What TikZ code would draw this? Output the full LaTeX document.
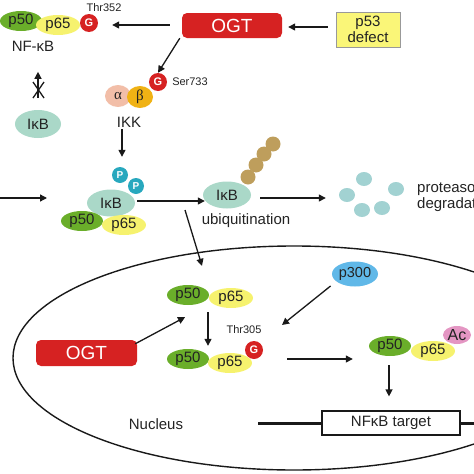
\documentclass[tikz,border=0pt]{standalone}
\usepackage{fontspec}
\setmainfont{Liberation Sans}
\newfontfamily\grkfont{Liberation Serif}
\usetikzlibrary{shapes.geometric,arrows.meta}
\definecolor{txt}{RGB}{35,35,35}
\definecolor{cPfifty}{RGB}{106,174,42}
\definecolor{cPsixfive}{RGB}{246,242,110}
\definecolor{cRed}{RGB}{214,34,34}
\definecolor{cIkB}{RGB}{170,216,200}
\definecolor{cPhos}{RGB}{40,168,190}
\definecolor{cAlpha}{RGB}{242,190,168}
\definecolor{cBeta}{RGB}{240,178,20}
\definecolor{cUb}{RGB}{190,158,92}
\definecolor{cDot}{RGB}{162,210,210}
\definecolor{cPthree}{RGB}{96,184,232}
\definecolor{cAc}{RGB}{228,150,195}
\definecolor{cYbox}{RGB}{250,246,120}
\begin{document}
\begin{tikzpicture}[x=1pt,y=-1pt,
  every node/.style={inner sep=0pt, text=txt},
  lbl/.style={font=\fontsize{15}{16}\selectfont},
  sml/.style={font=\fontsize{11}{12}\selectfont},
  prot/.style={ellipse, font=\fontsize{15}{16}\selectfont},
  pfifty/.style={prot, fill=cPfifty, minimum width=42pt, minimum height=20pt},
  psixfive/.style={prot, fill=cPsixfive, minimum width=44pt, minimum height=20pt},
  ikb/.style={prot, fill=cIkB, minimum width=48pt, minimum height=27pt},
  gly/.style={circle, fill=cRed, text=white, font=\bfseries\fontsize{11}{11}\selectfont, minimum size=18pt},
  phos/.style={circle, fill=cPhos, text=white, font=\bfseries\fontsize{10}{10}\selectfont, minimum size=16pt},
  ubq/.style={circle, fill=cUb, minimum size=15pt},
  pdot/.style={ellipse, fill=cDot, minimum width=16pt, minimum height=14pt},
  ogtbox/.style={rectangle, rounded corners=5pt, fill=cRed, text=white, font=\fontsize{19}{20}\selectfont},
  arr/.style={-{Triangle[length=7pt,width=7pt]}, line width=1.3pt, draw=black!90},
]
\useasboundingbox (0,0) rectangle (474,474);
\clip (0,0) rectangle (474,474);

% nucleus
\node[ellipse, draw=black!90, line width=1.4pt, minimum width=562pt, minimum height=224pt] (nucleus) at (294,358) {};

% ---------- top row ----------
\node[pfifty] (tp50) at (21,21) {p50};
\node[psixfive] (tp65) at (58,25) {p65};
\node[gly] (tG) at (89,23) {G};
\node[sml] (thr352) at (104,8) {Thr352};
\node[lbl] (nfkb) at (33,46) {NF-κB};

\node[ogtbox, minimum width=100pt, minimum height=25pt] (ogt1) at (232,25.5) {OGT};
\node[rectangle, draw=black!40, line width=0.8pt, fill=cYbox, align=center, minimum width=64pt, minimum height=35pt, font=\fontsize{15}{16}\selectfont] (p53) at (368,29.5) {p53\\defect};

\draw[arr] ([xshift=-8pt,yshift=2.5pt]p53.west) -- ([xshift=6pt,yshift=-1.5pt]ogt1.east);
\draw[arr] ([xshift=-12pt,yshift=0.5pt]ogt1.west) -- ([xshift=14pt,yshift=-2pt]tG.east);

% IKK
\node[ellipse, fill=cAlpha, minimum width=26pt, minimum height=22pt, font=\grkfont\fontsize{15}{16}\selectfont] (alpha) at (118,96) {α};
\node[ellipse, fill=cBeta, minimum width=26pt, minimum height=22pt, font=\grkfont\fontsize{15}{16}\selectfont] (beta) at (140,97) {β};
\node[gly] (ikkG) at (158,82) {G};
\node[sml] (ser733) at (190,82) {Ser733};
\node[lbl] (ikk) at (129,122) {IKK};
\draw[arr] ([xshift=-2pt]ogt1.south west) -- (ikkG.north);

% left IkB and crossed arrow
\node[ikb, minimum width=46pt, minimum height=28pt] (ikbL) at (38,124) {IκB};
\draw[arr] ([yshift=12pt]ikbL.north) -- ++(0,-26);
\draw[line width=1.3pt, black!90] (33,82) -- (44,98) (44,82) -- (33,98);

% ---------- middle row ----------
\node[ikb] (ikbM) at (111,203) {IκB};
\node[pfifty] (mp50) at (82,221) {p50};
\node[psixfive] (mp65) at (124,225) {p65};
\node[phos] (p1) at (120,175) {P};
\node[phos] (p2) at (136,186) {P};

\draw[arr] ([xshift=-7pt,yshift=-2pt]ikk.south) -- ([xshift=2pt,yshift=10pt]p1.north);

\coordinate (lin0) at (0,198);
\coordinate (lin1) at (47,198);
\draw[arr] (lin0) -- (lin1);

\node[ubq] (u4) at (273,144) {};
\node[ubq] (u3) at (264,154) {};
\node[ubq] (u2) at (256,165) {};
\node[ubq] (u1) at (248,177) {};
\node[ikb] (ubI) at (227,195) {IκB};
\node[lbl] (ubtext) at (246,221) {ubiquitination};

\draw[arr] ([xshift=2pt,yshift=2pt]ikbM.east) -- ([xshift=2pt,yshift=-6pt]ubI.west);

\node[pdot] (d1) at (364,179) {};
\node[pdot] (d2) at (347,195) {};
\node[pdot] (d3) at (396,189) {};
\node[pdot] (d4) at (362,210) {};
\node[pdot] (d5) at (382,208) {};
\node[anchor=west, align=left, font=\fontsize{15}{15.5}\selectfont] (prot) at (417,197) {proteasome\\degradation};

\draw[arr] ([xshift=9pt,yshift=-3pt]ubI.east) -- ([xshift=-13pt,yshift=-3pt]d2.west);

% ---------- nucleus ----------
\node[pfifty] (up50) at (188,295) {p50};
\node[psixfive] (up65) at (231,298) {p65};

\coordinate (nin0) at (185,210);
\draw[arr] (nin0) -- ([xshift=14pt,yshift=19pt]up50.north);

\node[pfifty] (lp50) at (188,359) {p50};
\node[psixfive] (lp65) at (230,363) {p65};
\node[gly] (lG) at (254,350) {G};
\node[sml] (thr305) at (244,330) {Thr305};

\draw[arr] ([xshift=20pt,yshift=-7pt]up50.south) -- ([xshift=20pt,yshift=3pt]lp50.north);

\node[ogtbox, minimum width=101pt, minimum height=26pt] (ogt2) at (86.5,353) {OGT};
\draw[arr] ([xshift=-2pt,yshift=-4pt]ogt2.north east) -- ([xshift=-3pt,yshift=-12pt]up50.south);

\node[ellipse, fill=cPthree, minimum width=46pt, minimum height=25pt, font=\fontsize{14.5}{15}\selectfont] (p300) at (355,274) {p300};
\coordinate (p300tgt) at (282,325);
\draw[arr] ([xshift=-8pt,yshift=-3pt]p300.south west) -- (p300tgt);

\node[pfifty] (rp50) at (390,346) {p50};
\node[psixfive] (rp65) at (433,351) {p65};
\node[ellipse, fill=cAc, minimum width=28pt, minimum height=18pt, font=\fontsize{16}{16}\selectfont] (ac) at (457,335) {Ac};

\draw[arr] ([xshift=35pt,yshift=4pt]lp65.east) -- ([xshift=-16pt,yshift=-13pt]rp50.west);

% DNA and target
\node[rectangle, draw=black!90, line width=1.2pt, fill=white, minimum width=138pt, minimum height=24pt, font=\fontsize{15}{16}\selectfont] (tgt) at (391,423) {NFκB target};
\coordinate (dnaL) at (258,423);
\coordinate (dnaR) at (480,423);
\draw[line width=3pt, black!90] (dnaL) -- (tgt.west);
\draw[line width=3pt, black!90] (tgt.east) -- (dnaR);

\draw[arr] ([xshift=-1pt,yshift=-9pt]rp50.south) -- ([xshift=-2pt,yshift=14pt]tgt.north);

\node[lbl] (nuclab) at (156,424) {Nucleus};
\end{tikzpicture}
\end{document}
